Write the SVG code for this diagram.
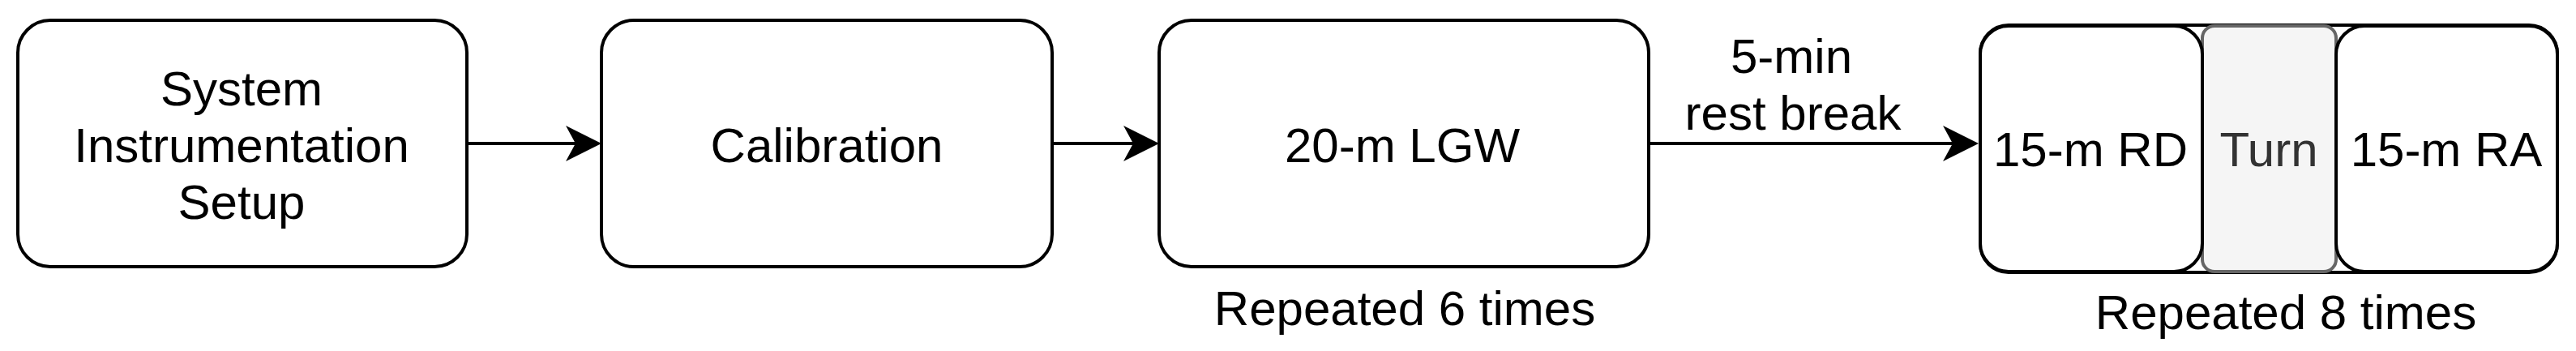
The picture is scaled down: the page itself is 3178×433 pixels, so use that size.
<svg xmlns="http://www.w3.org/2000/svg" width="3178" height="433" viewBox="0 0 3178 433">
<style>
.box{fill:#ffffff;stroke:#000000;stroke-width:4}
.turn{fill:#f5f5f5;stroke:#666666;stroke-width:4}
.lbl{font-family:"Liberation Sans",Arial,Helvetica,sans-serif;font-size:60px;fill:#000000;text-anchor:middle}
.gray{fill:#333333}
.edge{stroke:#000000;stroke-width:4;fill:none;marker-end:url(#arrow)}
</style>
<defs>
<marker id="arrow" markerUnits="userSpaceOnUse" viewBox="0 0 44 44" refX="32" refY="22" markerWidth="44" markerHeight="44" orient="auto">
<path d="M0,0 L44,22 L0,44 L12,22 Z" fill="#000000"/>
</marker>
</defs>
<rect width="3178" height="433" fill="#ffffff"/>
<g id="connectors">
<line class="edge" x1="576" y1="177" x2="730" y2="177"/>
<line class="edge" x1="1298" y1="177" x2="1418" y2="177"/>
<line class="edge" x1="2034" y1="177" x2="2429" y2="177"/>
<text class="lbl" x="2210" y="90">5-min</text>
<text class="lbl" x="2212" y="160">rest break</text>
</g>
<g id="node-setup">
<rect class="box" x="22" y="25" width="554" height="304" rx="40" ry="40"/>
<text class="lbl" x="298" y="130">System</text>
<text class="lbl" x="298" y="200">Instrumentation</text>
<text class="lbl" x="298" y="270">Setup</text>
</g>
<g id="node-calibration">
<rect class="box" x="742" y="25" width="556" height="304" rx="40" ry="40"/>
<text class="lbl" x="1020" y="200">Calibration</text>
</g>
<g id="node-lgw">
<rect class="box" x="1430" y="25" width="604" height="304" rx="40" ry="40"/>
<text class="lbl" x="1730" y="200">20-m LGW</text>
<text class="lbl" x="1733" y="401">Repeated 6 times</text>
</g>
<g id="node-group">
<rect class="box" x="2443" y="31" width="712" height="305" rx="35" ry="35" stroke-width="5"/>
<g id="node-turn">
<rect class="turn" x="2717" y="32" width="165" height="303" rx="15" ry="15"/>
<text class="lbl gray" x="2799" y="205">Turn</text>
</g>
<g id="node-rd">
<rect class="box" x="2443" y="32" width="274" height="303" rx="35" ry="35"/>
<text class="lbl" x="2579" y="205">15-m RD</text>
</g>
<g id="node-ra">
<rect class="box" x="2882" y="32" width="273" height="303" rx="35" ry="35"/>
<text class="lbl" x="3018" y="205">15-m RA</text>
</g>
<text class="lbl" x="2820" y="406">Repeated 8 times</text>
</g>
</svg>
